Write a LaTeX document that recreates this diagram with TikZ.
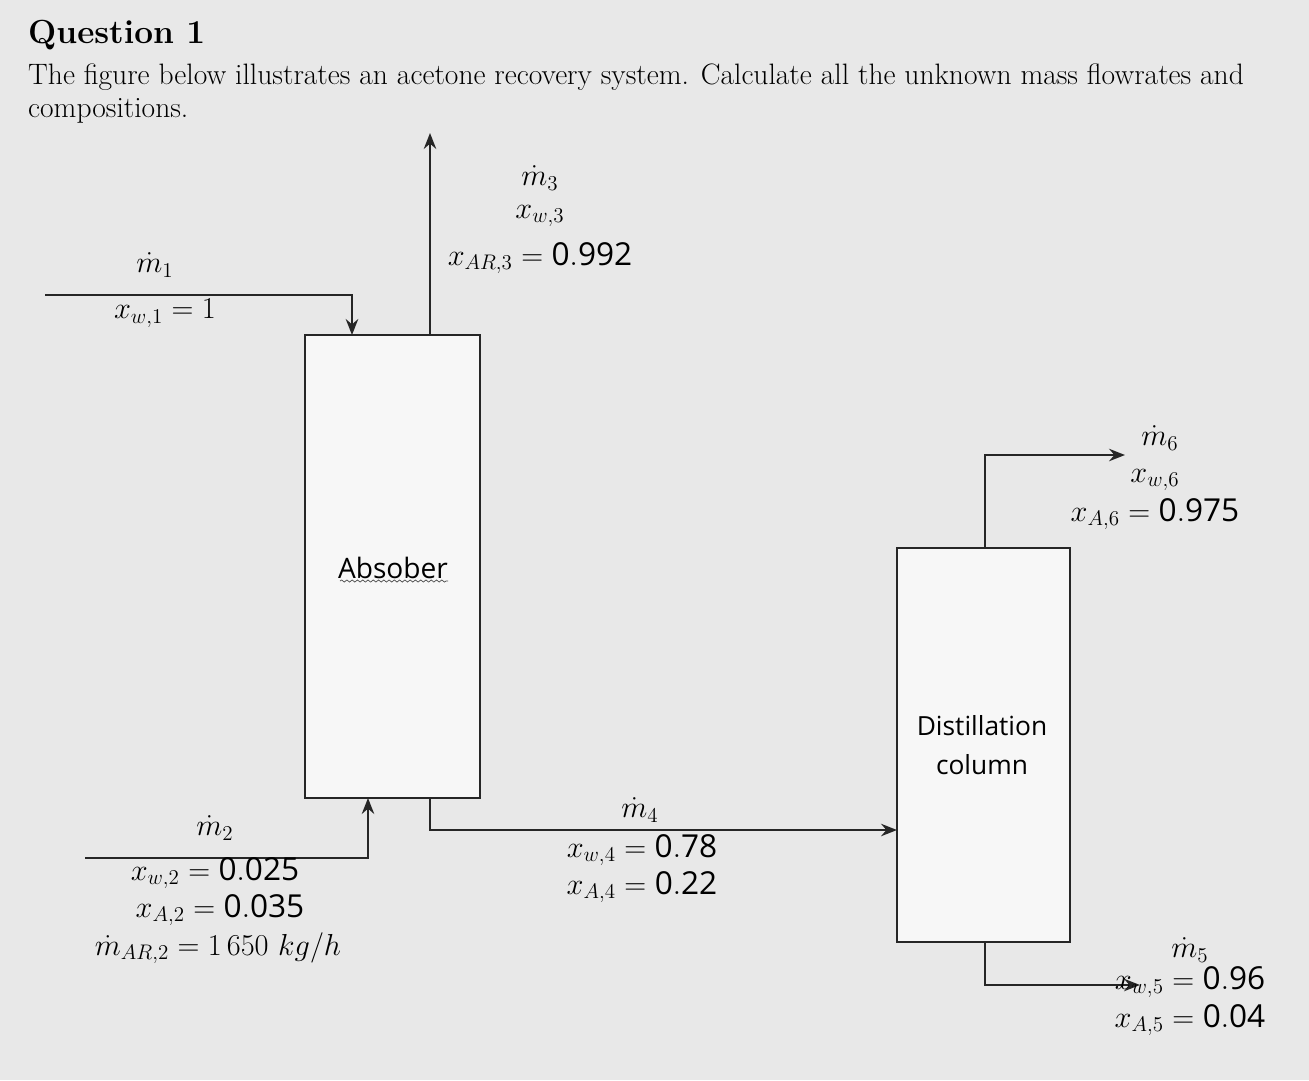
\documentclass[tikz,border=0pt]{standalone}
\usepackage{fontspec}
\setsansfont{Open Sans}
\usetikzlibrary{arrows.meta,decorations.pathmorphing}
\begin{document}
\begin{tikzpicture}[x=0.02cm,y=-0.02cm,
  ln/.style={line width=1.6pt,draw=black!85},
  arr/.style={ln,-{Stealth[length=9pt,width=7pt]}},
  lab/.style={font=\fontsize{18}{20}\selectfont,inner sep=1pt},
  boxs/.style={ln,fill=black!3}]
\fill[black!9] (0,0) rectangle (1309,1080);
\useasboundingbox (0,0) rectangle (1309,1080);
\node[anchor=west,font=\fontsize{19}{22}\selectfont\bfseries] (q) at (22,35) {Question 1};
\node[anchor=west,font=\fontsize{16.8}{22}\selectfont] (t1) at (22,77) {The figure below illustrates an acetone recovery system. Calculate all the unknown mass flowrates and};
\node[anchor=west,font=\fontsize{16.8}{22}\selectfont] (t2) at (22,111) {compositions.};
% absorber
\draw[boxs] (305,335) rectangle (480,798);
\node[font=\sffamily\fontsize{16}{20}\selectfont] (ab) at (393,568) {Absober};
\draw[black!70,decorate,decoration={snake,amplitude=0.6pt,segment length=3pt}] (340,581) -- (448,581);
% distillation
\draw[boxs] (897,548) rectangle (1070,942);
\node[font=\sffamily\fontsize{15}{20}\selectfont,align=center] (dc) at (982,745) {Distillation\\[2pt]column};
% streams
\coordinate (s1) at (45,295); \coordinate (s1b) at (352,295); \coordinate (s1e) at (352,335);
\draw[arr] (s1) -- (s1b) -- (s1e);
\coordinate (s3a) at (430,335); \coordinate (s3e) at (430,133);
\draw[arr] (s3a) -- (s3e);
\coordinate (s2) at (85,858); \coordinate (s2b) at (368,858); \coordinate (s2e) at (368,798);
\draw[arr] (s2) -- (s2b) -- (s2e);
\coordinate (s4a) at (430,798); \coordinate (s4b) at (430,830); \coordinate (s4e) at (897,830);
\draw[arr] (s4a) -- (s4b) -- (s4e);
\coordinate (s6a) at (985,548); \coordinate (s6b) at (985,455); \coordinate (s6e) at (1125,455);
\draw[arr] (s6a) -- (s6b) -- (s6e);
\coordinate (s5a) at (985,942); \coordinate (s5b) at (985,985); \coordinate (s5e) at (1140,985);
\draw[arr] (s5a) -- (s5b) -- (s5e);
% labels
\node[lab] (m1) at (155,265) {$\dot{m}_1$};
\node[lab] (x1) at (165,313) {$x_{w,1}=1$};
\node[lab] (m3) at (540,178) {$\dot{m}_3$};
\node[lab] (x3) at (540,216) {$x_{w,3}$};
\node[lab] (xa3) at (540,258) {$x_{AR,3}=\mathsf{0.992}$};
\node[lab] (m2) at (215,828) {$\dot{m}_2$};
\node[lab] (x2) at (215,873) {$x_{w,2}=\mathsf{0.025}$};
\node[lab] (xa2) at (220,910) {$x_{A,2}=\mathsf{0.035}$};
\node[lab] (mar) at (218,948) {$\dot{m}_{AR,2}=1\,650\ kg/h$};
\node[lab] (m4) at (640,810) {$\dot{m}_4$};
\node[lab] (x4) at (642,850) {$x_{w,4}=\mathsf{0.78}$};
\node[lab] (xa4) at (642,887) {$x_{A,4}=\mathsf{0.22}$};
\node[lab] (m6) at (1160,438) {$\dot{m}_6$};
\node[lab] (x6) at (1155,480) {$x_{w,6}$};
\node[lab] (xa6) at (1155,514) {$x_{A,6}=\mathsf{0.975}$};
\node[lab] (m5) at (1190,950) {$\dot{m}_5$};
\node[lab] (x5) at (1190,982) {$x_{w,5}=\mathsf{0.96}$};
\node[lab] (xa5) at (1190,1020) {$x_{A,5}=\mathsf{0.04}$};
\end{tikzpicture}
\end{document}
